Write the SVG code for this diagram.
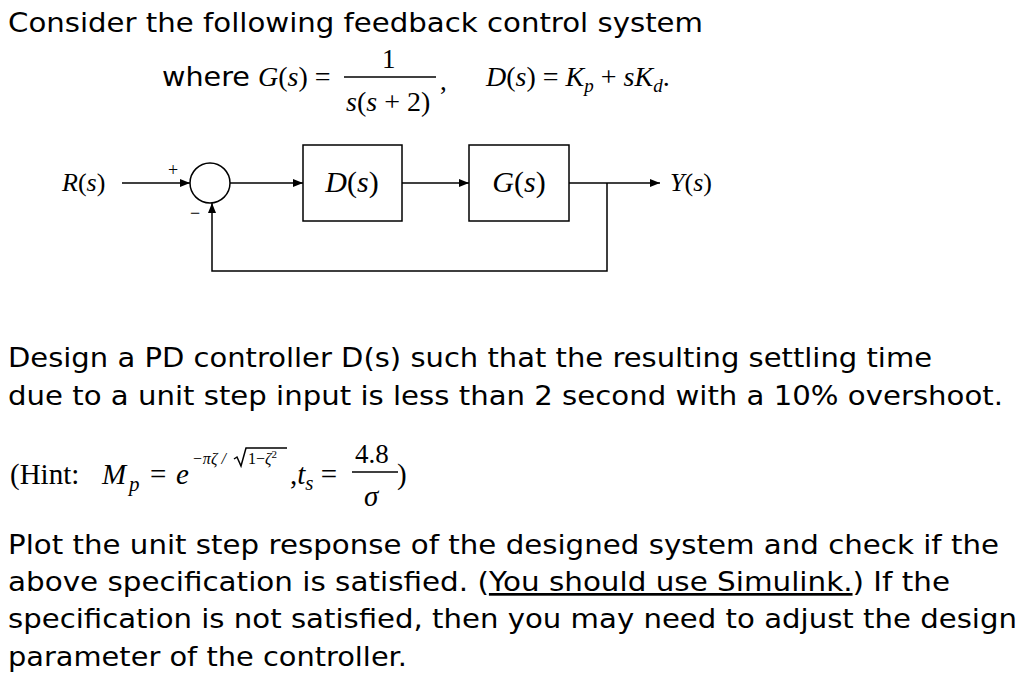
<svg xmlns="http://www.w3.org/2000/svg" width="1024" height="676" viewBox="0 0 1024 676">
<defs><marker id="a" markerWidth="10" markerHeight="8" refX="10" refY="4" orient="auto" markerUnits="userSpaceOnUse"><path d="M0,0 L10,4 L0,8 z" fill="#000"/></marker></defs>
<style>.t{font-family:"DejaVu Sans","Liberation Sans",sans-serif;font-size:27px;fill:#000}.m{font-family:"Liberation Serif","Times New Roman",serif;fill:#000}.i{font-style:italic}.l{stroke:#000;stroke-width:1.5;fill:none}</style>
<rect width="1024" height="676" fill="#fff"/>
<text class="t" x="8" y="32" textLength="695" lengthAdjust="spacingAndGlyphs">Consider the following feedback control system</text>
<text class="t" x="162" y="86" textLength="88" lengthAdjust="spacingAndGlyphs">where</text>
<text class="m" x="258" y="86" font-size="28"><tspan class="i">G</tspan>(<tspan class="i">s</tspan>) =</text>
<text class="m" x="382" y="68" font-size="27">1</text>
<line x1="344" y1="77" x2="436" y2="77" stroke="#000" stroke-width="1.3"/>
<text class="m" x="346" y="111" font-size="28"><tspan class="i">s</tspan>(<tspan class="i">s</tspan> + 2)</text>
<text class="m" x="440" y="90" font-size="27">,</text>
<text class="m" x="486" y="86" font-size="28"><tspan class="i">D</tspan>(<tspan class="i">s</tspan>) = <tspan class="i">K</tspan><tspan class="i" font-size="19" dy="6">p</tspan><tspan dy="-6"> + </tspan><tspan class="i">sK</tspan><tspan class="i" font-size="19" dy="6">d</tspan><tspan dy="-6">.</tspan></text>
<g id="R"><text class="m" x="62" y="191" font-size="26"><tspan class="i">R</tspan>(<tspan class="i">s</tspan>)</text></g>
<g id="sum"><circle class="l" cx="210" cy="183" r="20"/><text class="m" x="168" y="176" font-size="18">+</text><text class="m" x="190" y="219" font-size="18">−</text></g>
<g id="D"><rect class="l" x="303" y="145" width="99" height="76"/><text class="m" x="352" y="192" font-size="30" text-anchor="middle"><tspan class="i">D</tspan>(<tspan class="i">s</tspan>)</text></g>
<g id="G"><rect class="l" x="469" y="145" width="100" height="76"/><text class="m" x="519" y="192" font-size="30" text-anchor="middle"><tspan class="i">G</tspan>(<tspan class="i">s</tspan>)</text></g>
<g id="Y"><text class="m" x="670" y="191" font-size="26"><tspan class="i">Y</tspan>(<tspan class="i">s</tspan>)</text></g>
<g id="connectors" class="l">
<line x1="122" y1="183" x2="190" y2="183" marker-end="url(#a)"/>
<line x1="230" y1="183" x2="303" y2="183" marker-end="url(#a)"/>
<line x1="402" y1="183" x2="469" y2="183" marker-end="url(#a)"/>
<line x1="569" y1="183" x2="660" y2="183" marker-end="url(#a)"/>
<polyline points="607,183 607,271 212,271 212,203" marker-end="url(#a)"/>
</g>
<text class="t" x="8" y="367" textLength="924" lengthAdjust="spacingAndGlyphs">Design a PD controller D(s) such that the resulting settling time</text>
<text class="t" x="8" y="405" textLength="995" lengthAdjust="spacingAndGlyphs">due to a unit step input is less than 2 second with a 10% overshoot.</text>
<text class="m" x="10" y="484" font-size="29">(Hint:</text>
<text class="m i" x="102" y="484" font-size="29">M</text>
<text class="m i" x="129" y="491" font-size="21">p</text>
<text class="m" x="150" y="484" font-size="29">=</text>
<text class="m i" x="176" y="484" font-size="29">e</text>
<text class="m i" x="192" y="464" font-size="16">−πζ /</text>
<path d="M234,459 L237,457 L241,466 L246,448 L287,448" class="l" stroke-width="1"/>
<text class="m" x="248" y="464" font-size="16">1−<tspan class="i">ζ</tspan><tspan font-size="11" dy="-6">2</tspan></text>
<text class="m" x="290" y="484" font-size="29">,<tspan class="i">t</tspan><tspan class="i" font-size="21" dy="6">s</tspan><tspan dy="-6"> =</tspan></text>
<text class="m" x="355" y="463" font-size="27">4.8</text>
<line x1="352" y1="472" x2="398" y2="472" stroke="#000" stroke-width="1.3"/>
<text class="m i" x="364" y="506" font-size="29">σ</text>
<text class="m" x="397" y="484" font-size="29">)</text>
<text class="t" x="8" y="554" textLength="991" lengthAdjust="spacingAndGlyphs">Plot the unit step response of the designed system and check if the</text>
<text class="t" x="8" y="591" textLength="942" lengthAdjust="spacingAndGlyphs">above specification is satisfied. (<tspan text-decoration="underline">You should use Simulink.</tspan>) If the</text>
<text class="t" x="8" y="628" textLength="1009" lengthAdjust="spacingAndGlyphs">specification is not satisfied, then you may need to adjust the design</text>
<text class="t" x="8" y="666" textLength="399" lengthAdjust="spacingAndGlyphs">parameter of the controller.</text>
</svg>
